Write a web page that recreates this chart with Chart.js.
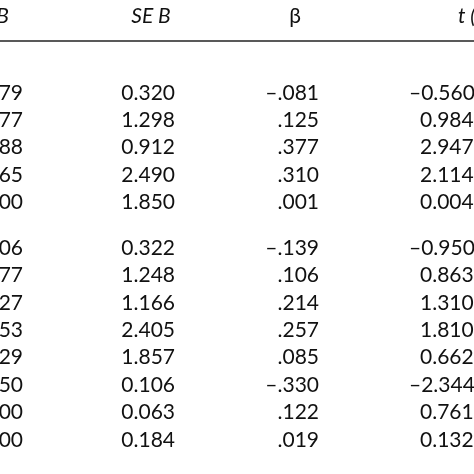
<!DOCTYPE html>
<html><head><meta charset="utf-8">
<script src="https://cdn.jsdelivr.net/npm/chart.js@4"></script>
<style>html,body{margin:0;padding:0;background:#fff}#w{width:474px;height:474px}</style>
</head><body><div id="w"><canvas id="c"></canvas></div>
<script>
const headers = ["B", "SE B", "β", "t ("];
const colB = ["0.179","0.277","0.688","1.265","0.000","0.306","0.077","0.527","1.353","0.229","0.250","0.000","0.000"];
const colSE = ["0.320","1.298","0.912","2.490","1.850","0.322","1.248","1.166","2.405","1.857","0.106","0.063","0.184"];
const colBeta = ["–.081",".125",".377",".310",".001","–.139",".106",".214",".257",".085","–.330",".122",".019"];
const colT = ["–0.560","0.984","2.947","2.114","0.004","–0.950","0.863","1.310","1.810","0.662","–2.344","0.761","0.132"];
const rowY = [93,120,147,175,202,248,275,303,330,357,385,412,440];

const tablePlugin = {
  id: 'table',
  afterDraw(chart) {
    const ctx = chart.ctx, xs = chart.scales.x, ys = chart.scales.y;
    const X = v => xs.getPixelForValue(v), Y = v => ys.getPixelForValue(v);
    ctx.save();
    ctx.fillStyle = '#111';
    ctx.textBaseline = 'middle';
    ctx.font = 'italic 21px Lato';
    ctx.textAlign = 'right'; ctx.fillText(headers[0], X(9), Y(16));
    ctx.textAlign = 'center'; ctx.fillText(headers[1], X(151), Y(16));
    ctx.font = '21px Lato'; ctx.fillText(headers[2], X(295), Y(16));
    ctx.font = 'italic 21px Lato'; ctx.textAlign = 'left'; ctx.fillText(headers[3], X(458), Y(16));
    ctx.strokeStyle = '#222'; ctx.lineWidth = 1.5;
    ctx.beginPath(); ctx.moveTo(X(0), Y(41)); ctx.lineTo(X(474), Y(41)); ctx.stroke();
    ctx.font = '21px Lato';
    rowY.forEach((y, i) => {
      ctx.textAlign = 'right';
      ctx.fillText(colB[i], X(23), Y(y));
      ctx.fillText(colSE[i], X(175), Y(y));
      ctx.fillText(colBeta[i], X(319), Y(y));
      ctx.textAlign = 'left';
      ctx.fillText(colT[i], X(colT[i].startsWith('–') ? 409 : 420), Y(y));
    });
    ctx.restore();
  }
};

new Chart(document.getElementById('c'), {
  type: 'scatter',
  data: { datasets: [{ data: [], pointRadius: 0 }] },
  options: {
    responsive: true, maintainAspectRatio: false, animation: false,
    layout: { padding: 0 },
    plugins: { legend: { display: false }, tooltip: { enabled: false } },
    scales: {
      x: { type: 'linear', min: 0, max: 474, display: false },
      y: { type: 'linear', min: 0, max: 474, reverse: true, display: false }
    }
  },
  plugins: [tablePlugin]
});
</script></body></html>
